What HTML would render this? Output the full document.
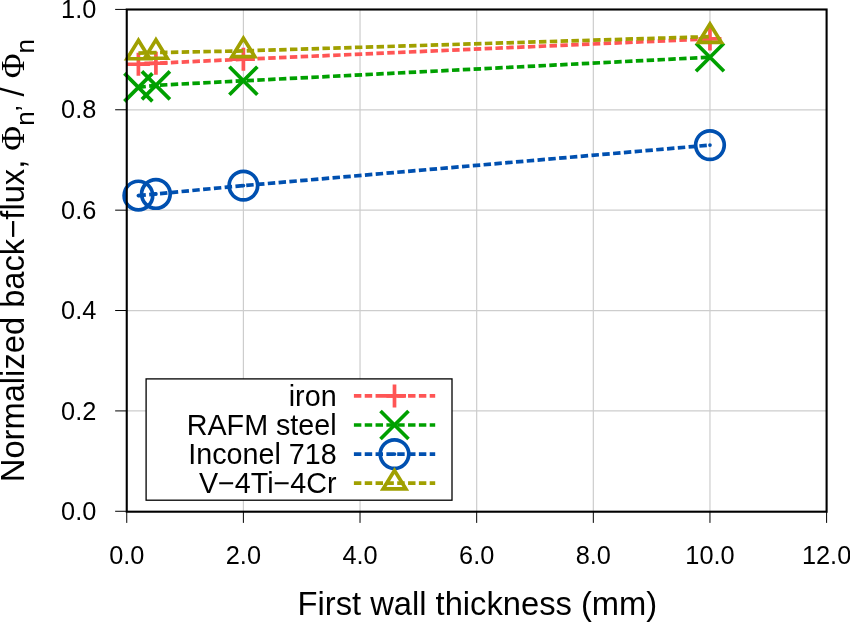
<!DOCTYPE html>
<html><head><meta charset="utf-8"><title>Normalized back-flux vs first wall thickness</title>
<style>
html,body{margin:0;padding:0;background:#fff;}
svg{display:block;}
text{font-family:"Liberation Sans",sans-serif;fill:#000;}
.tk{font-size:25.33px;}
.lb{font-size:32.7px;}
.sb{font-size:26px;}
.kg{font-size:28.7px;}
.sym{font-family:"Liberation Serif",serif;font-size:34px;}
</style></head><body>
<svg width="850" height="622" viewBox="0 0 850 622">
<rect width="850" height="622" fill="#fff"/>
<path d="M243.39 9.5V511.7M360.03 9.5V511.7M476.68 9.5V511.7M593.32 9.5V511.7M709.96 9.5V511.7M126.75 410.96H826.6M126.75 310.58H826.6M126.75 210.21H826.6M126.75 109.83H826.6" stroke="#cdcdcd" stroke-width="1.2" fill="none"/>
<path d="M126.75 511.7v11.2M243.39 511.7v11.2M360.03 511.7v11.2M476.68 511.7v11.2M593.32 511.7v11.2M709.96 511.7v11.2M826.60 511.7v11.2M126.75 511.28h-11.6M126.75 410.91h-11.6M126.75 310.53h-11.6M126.75 210.16h-11.6M126.75 109.78h-11.6M126.75 9.41h-11.6" stroke="#000" stroke-width="1" fill="none"/>
<path d="M138.41 64.24L155.91 63.24L243.39 59.22L709.96 38.88" stroke="#ff5555" stroke-width="3.7" stroke-dasharray="7.45 3.38" fill="none"/>
<path d="M126.91 64.24H149.91M138.41 52.74V75.74" stroke="#ff5555" stroke-width="3.7" fill="none"/>
<path d="M144.41 63.24H167.41M155.91 51.74V74.74" stroke="#ff5555" stroke-width="3.7" fill="none"/>
<path d="M231.89 59.22H254.89M243.39 47.72V70.72" stroke="#ff5555" stroke-width="3.7" fill="none"/>
<path d="M698.46 38.88H721.46M709.96 27.38V50.38" stroke="#ff5555" stroke-width="3.7" fill="none"/>
<path d="M138.41 87.34L155.91 85.33L243.39 80.81L709.96 57.21" stroke="#00a000" stroke-width="3.7" stroke-dasharray="7.45 3.38" fill="none"/>
<path d="M124.41 73.34L152.41 101.34M124.41 101.34L152.41 73.34" stroke="#00a000" stroke-width="3.7" fill="none"/>
<path d="M141.91 71.33L169.91 99.33M141.91 99.33L169.91 71.33" stroke="#00a000" stroke-width="3.7" fill="none"/>
<path d="M229.39 66.81L257.39 94.81M229.39 94.81L257.39 66.81" stroke="#00a000" stroke-width="3.7" fill="none"/>
<path d="M695.96 43.21L723.96 71.21M695.96 71.21L723.96 43.21" stroke="#00a000" stroke-width="3.7" fill="none"/>
<path d="M138.41 195.57L155.91 193.96L243.39 185.62L709.96 145.09" stroke="#0050b0" stroke-width="3.7" stroke-dasharray="7.45 3.38" fill="none"/>
<circle cx="138.41" cy="195.57" r="14.3" stroke="#0050b0" stroke-width="3.7" fill="none"/><circle cx="138.41" cy="195.57" r="1.85" fill="#0050b0"/>
<circle cx="155.91" cy="193.96" r="14.3" stroke="#0050b0" stroke-width="3.7" fill="none"/><circle cx="155.91" cy="193.96" r="1.85" fill="#0050b0"/>
<circle cx="243.39" cy="185.62" r="14.3" stroke="#0050b0" stroke-width="3.7" fill="none"/><circle cx="243.39" cy="185.62" r="1.85" fill="#0050b0"/>
<circle cx="709.96" cy="145.09" r="14.3" stroke="#0050b0" stroke-width="3.7" fill="none"/><circle cx="709.96" cy="145.09" r="1.85" fill="#0050b0"/>
<path d="M138.41 53.09L155.91 52.59L243.39 50.88L709.96 36.62" stroke="#a0a000" stroke-width="3.7" stroke-dasharray="7.45 3.38" fill="none"/>
<path d="M138.41 40.38L127.06 58.77H149.76Z" stroke="#a0a000" stroke-width="3.7" fill="none" stroke-linejoin="miter" stroke-miterlimit="10"/>
<path d="M155.91 39.88L144.56 58.26H167.26Z" stroke="#a0a000" stroke-width="3.7" fill="none" stroke-linejoin="miter" stroke-miterlimit="10"/>
<path d="M243.39 38.17L232.04 56.56H254.74Z" stroke="#a0a000" stroke-width="3.7" fill="none" stroke-linejoin="miter" stroke-miterlimit="10"/>
<path d="M709.96 23.91L698.61 42.29H721.31Z" stroke="#a0a000" stroke-width="3.7" fill="none" stroke-linejoin="miter" stroke-miterlimit="10"/>
<rect x="146.1" y="378.9" width="305.90" height="121.30" fill="#fff" stroke="#000" stroke-width="1.3"/>
<text class="kg" x="336.6" y="406.00" text-anchor="end">iron</text>
<path d="M353.9 395.9H435.2" stroke="#ff5555" stroke-width="3.7" stroke-dasharray="7.45 3.38" fill="none"/>
<path d="M383.00 395.90H406.00M394.50 384.40V407.40" stroke="#ff5555" stroke-width="3.7" fill="none"/>
<text class="kg" x="336.6" y="435.10" text-anchor="end">RAFM steel</text>
<path d="M353.9 425.0H435.2" stroke="#00a000" stroke-width="3.7" stroke-dasharray="7.45 3.38" fill="none"/>
<path d="M380.50 411.00L408.50 439.00M380.50 439.00L408.50 411.00" stroke="#00a000" stroke-width="3.7" fill="none"/>
<text class="kg" x="336.6" y="464.20" text-anchor="end">Inconel 718</text>
<path d="M353.9 454.1H435.2" stroke="#0050b0" stroke-width="3.7" stroke-dasharray="7.45 3.38" fill="none"/>
<circle cx="394.50" cy="454.10" r="14.3" stroke="#0050b0" stroke-width="3.7" fill="none"/><circle cx="394.50" cy="454.10" r="1.85" fill="#0050b0"/>
<text class="kg" x="336.6" y="493.30" text-anchor="end">V−4Ti−4Cr</text>
<path d="M353.9 483.2H435.2" stroke="#a0a000" stroke-width="3.7" stroke-dasharray="7.45 3.38" fill="none"/>
<path d="M394.50 470.49L383.15 488.88H405.85Z" stroke="#a0a000" stroke-width="3.7" fill="none" stroke-linejoin="miter" stroke-miterlimit="10"/>
<rect x="126.75" y="9.5" width="699.85" height="502.20" fill="none" stroke="#000" stroke-width="2.1"/>
<text class="tk" x="126.75" y="564.4" text-anchor="middle">0.0</text>
<text class="tk" x="243.39" y="564.4" text-anchor="middle">2.0</text>
<text class="tk" x="360.03" y="564.4" text-anchor="middle">4.0</text>
<text class="tk" x="476.68" y="564.4" text-anchor="middle">6.0</text>
<text class="tk" x="593.32" y="564.4" text-anchor="middle">8.0</text>
<text class="tk" x="709.96" y="564.4" text-anchor="middle">10.0</text>
<text class="tk" x="826.60" y="564.4" text-anchor="middle">12.0</text>
<text class="tk" x="96.3" y="520.10" text-anchor="end">0.0</text>
<text class="tk" x="96.3" y="419.66" text-anchor="end">0.2</text>
<text class="tk" x="96.3" y="319.22" text-anchor="end">0.4</text>
<text class="tk" x="96.3" y="218.78" text-anchor="end">0.6</text>
<text class="tk" x="96.3" y="118.34" text-anchor="end">0.8</text>
<text class="tk" x="96.3" y="17.90" text-anchor="end">1.0</text>
<text class="lb" x="477.38" y="614.7" text-anchor="middle">First wall thickness (mm)</text>
<text class="lb" transform="translate(24.1 260.60) rotate(-90)" text-anchor="middle">Normalized back−flux, <tspan class="sym">Φ</tspan><tspan dy="9.7" class="sb">n’</tspan><tspan dy="-9.7"> / </tspan><tspan class="sym">Φ</tspan><tspan dy="9.7" class="sb">n</tspan></text>
</svg></body></html>
